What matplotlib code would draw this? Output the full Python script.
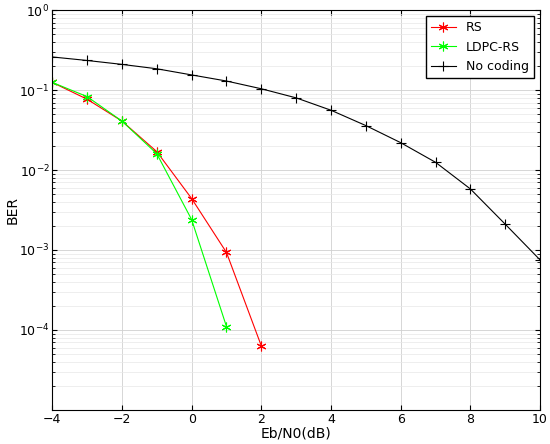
import matplotlib.pyplot as plt

ebn0 = [-4, -3, -2, -1, 0, 1, 2, 3, 4, 5, 6, 7, 8, 9, 10]
ber_uncoded = [0.26, 0.235, 0.21, 0.185, 0.155, 0.13, 0.104, 0.08, 0.056, 0.036, 0.022, 0.0125, 0.0058, 0.0021, 0.00075]

ebn0_rs = [-4, -3, -2, -1, 0, 1, 2]
ber_rs = [0.125, 0.077, 0.041, 0.017, 0.0044, 0.00093, 0.000063]

ebn0_ldpc = [-4, -3, -2, -1, 0, 1]
ber_ldpc = [0.125, 0.083, 0.041, 0.016, 0.0024, 0.00011]

fig = plt.figure(figsize=(5.5, 4.44), dpi=100)
ax = fig.add_axes([0.095, 0.077, 0.887, 0.9])

star = (6, 2, 0)
ax.semilogy(ebn0_rs, ber_rs, '-', marker=star, color='red', lw=0.8, ms=7, mew=0.8, label='RS')
ax.semilogy(ebn0_ldpc, ber_ldpc, '-', marker=star, color='#00ff00', lw=0.8, ms=7, mew=0.8, label='LDPC-RS')
ax.semilogy(ebn0, ber_uncoded, '-+', color='black', lw=0.8, ms=7, mew=0.8, label='No coding')

ax.set_xlim(-4, 10)
ax.set_ylim(1e-5, 1)
ax.set_xticks(range(-4, 11, 2))
ax.set_yticks([1e-4, 1e-3, 1e-2, 1e-1, 1e0])
ax.set_xlabel('Eb/N0(dB)', fontsize=10, labelpad=1)
ax.set_ylabel('BER', fontsize=10, labelpad=0)
ax.grid(True, which='major', color='#d0d0d0', lw=0.6)
ax.grid(True, which='minor', color='#e8e8e8', lw=0.5)
ax.tick_params(which='both', direction='in', top=True, right=True, labelsize=9, pad=2)
ax.legend(loc='upper right', fontsize=9, fancybox=False, edgecolor='black', framealpha=1)

fig.savefig('out.png')
